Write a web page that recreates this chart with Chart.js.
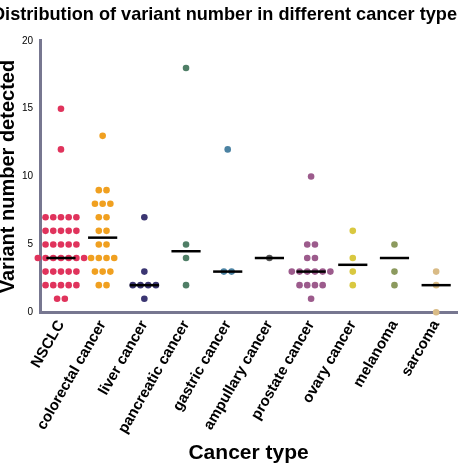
<!DOCTYPE html><html><head><script src="https://cdn.jsdelivr.net/npm/chart.js"></script>
<style>body{margin:0;background:#fff}#w{width:474px;height:474px}</style></head><body><div id="w"><canvas id="c"></canvas></div><script>
const categories=["NSCLC","colorectal cancer","liver cancer","pancreatic cancer","gastric cancer","ampullary cancer","prostate cancer","ovary cancer","melanoma","sarcoma"];
const values=[
[15,12,7,7,7,7,7,6,6,6,6,6,5,5,5,5,5,4,4,4,4,4,4,4,3,3,3,3,3,2,2,2,2,2,1,1],
[13,9,9,8,8,8,7,7,6,6,5,5,4,4,4,4,3,3,3,2,2],
[7,3,2,2,2,2,1],
[18,5,4,2],
[12,3,3],
[4],
[10,5,5,4,4,3,3,3,3,3,3,2,2,2,2,1],
[6,4,3,2],
[5,3,2],
[3,2,0]];
const medians=[4,5.5,2,4.5,3,4,3,3.5,4,2];
const colors=["#e0335c","#f0a020","#3b3672","#4f7e66","#4b82a2","#555555","#9c5b8c","#d9c840","#8c9a5e","#d9bb86"];
const yTicks=[0,5,10,15,20];
const datasets=values.map((vs,i)=>{const cnt={},pts=[];const tot={};vs.forEach(v=>tot[v]=(tot[v]||0)+1);
 vs.forEach(v=>{cnt[v]=(cnt[v]||0)+1;const k=cnt[v]-1;pts.push({x:i+(k-(tot[v]-1)/2)*0.185,y:v});});
 return {data:pts,backgroundColor:colors[i],borderWidth:0,pointRadius:3.3,clip:false};});
const med={id:'med',afterDatasetsDraw(ch){const c=ch.ctx,x=ch.scales.x,y=ch.scales.y;c.save();c.strokeStyle='#000';c.lineWidth=2.5;
 medians.forEach((m,i)=>{c.beginPath();c.moveTo(x.getPixelForValue(i-0.35),y.getPixelForValue(m));c.lineTo(x.getPixelForValue(i+0.35),y.getPixelForValue(m));c.stroke();});c.restore();}};
new Chart(document.getElementById('c'),{type:'scatter',data:{datasets},plugins:[med],options:{responsive:true,maintainAspectRatio:false,animation:false,
layout:{padding:{top:0,right:17,bottom:4,left:-8}},
plugins:{legend:{display:false},tooltip:{enabled:false},title:{display:true,text:"Distribution of variant number in different cancer type",color:'#000',font:{family:'Liberation Sans',size:19,weight:'bold'},padding:{top:3,bottom:15}}},
scales:{x:{type:'linear',min:-0.5,max:9.5,afterBuildTicks(s){s.ticks=categories.map((_,i)=>({value:i}));},
 ticks:{autoSkip:false,maxRotation:60,minRotation:60,padding:0,color:'#000',font:{family:'Liberation Sans',size:15,weight:'bold'},callback:(v)=>categories[v]},
 grid:{display:false,drawTicks:true,tickLength:5,tickColor:'#777790',tickWidth:2},border:{color:'#777790',width:3},
 title:{display:true,text:'Cancer type',color:'#000',font:{family:'Liberation Sans',size:21,weight:'bold'},padding:{top:4}}},
y:{min:0,max:20,afterBuildTicks(s){s.ticks=yTicks.map(v=>({value:v}));},ticks:{padding:2,color:'#000',font:{family:'Liberation Sans',size:10}},
 grid:{display:false,tickLength:5,tickColor:'#777790',tickWidth:2},border:{color:'#777790',width:3},
 title:{display:true,text:'Variant number detected',color:'#000',font:{family:'Liberation Sans',size:20,weight:'bold'},padding:{bottom:0}}}}}});
</script></body></html>
